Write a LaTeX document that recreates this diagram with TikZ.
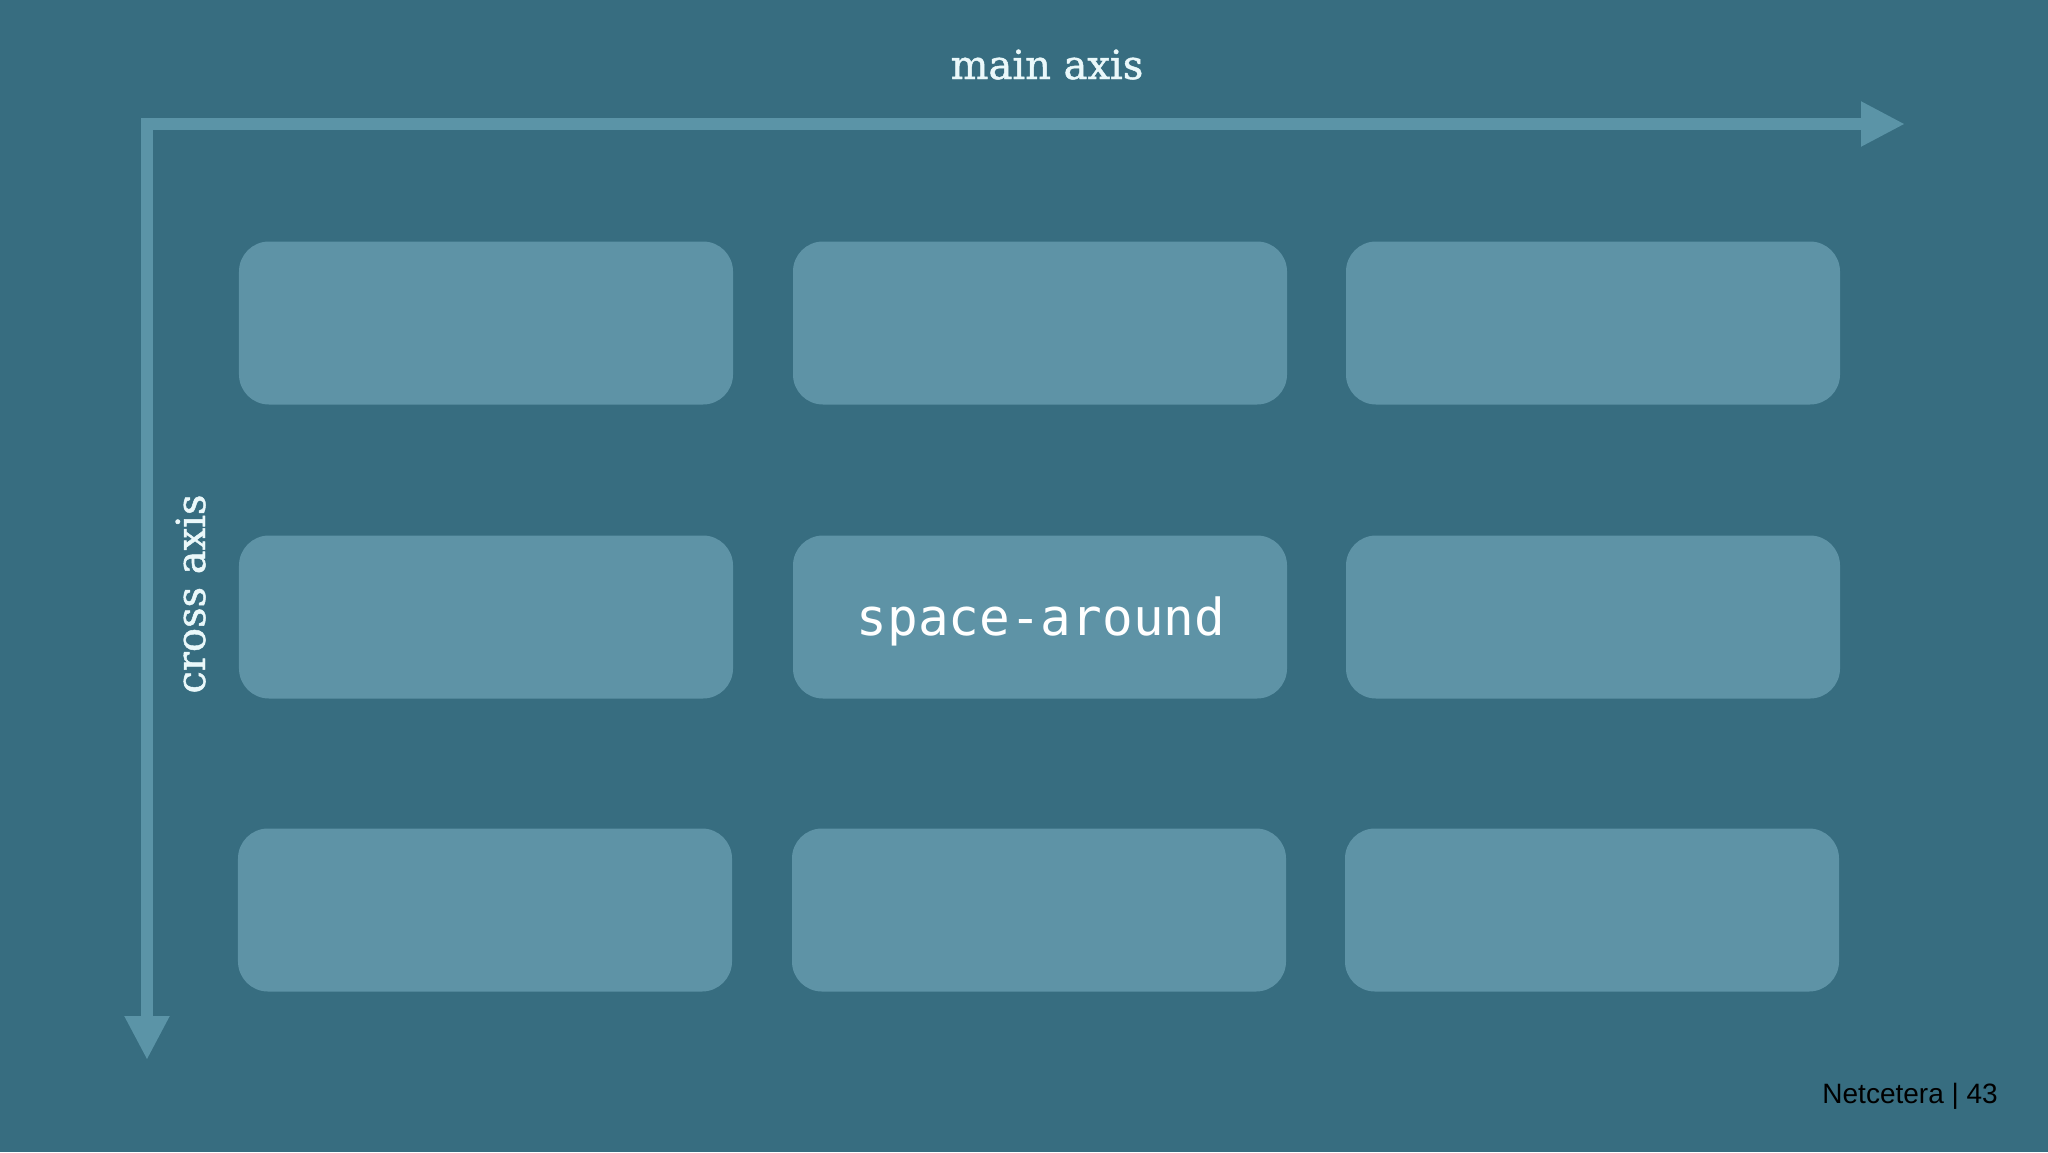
\documentclass[tikz,border=0pt]{standalone}
\usepackage{fontspec}
\setmainfont{DejaVu Serif}
\newfontfamily\axisfont{DejaVu Serif}[FakeBold=1.2]
\newfontfamily\codefont{DejaVu Sans Mono}
\newfontfamily\footfont{Liberation Sans}
\usetikzlibrary{arrows.meta}
\definecolor{slidebg}{HTML}{376D80}
\definecolor{itemfill}{HTML}{5E93A6}
\definecolor{axiscol}{HTML}{5B94A7}
\definecolor{labelcol}{HTML}{EAF8FA}
\tikzset{
	item/.style={fill=itemfill, rounded corners=30bp, minimum width=494bp, minimum height=163bp, inner sep=0pt},
	axislabel/.style={text=labelcol, inner sep=0pt, font=\axisfont\fontsize{40bp}{48bp}\selectfont},
}
\begin{document}
\begin{tikzpicture}[x=1bp, y=-1bp, >={Triangle[width=42bp,length=44bp]}]
				\def\colA{486}
				\def\colB{1040}
				\def\colC{1593}
				\def\rowA{323}
				\def\rowB{617}
				\def\rowC{910}
				
				\fill[slidebg] (0,0) rectangle (2048,1152);
				\useasboundingbox (0,0) rectangle (2048,1152);
				
				\coordinate (origin) at (147,124);
				\coordinate (mainend) at (1905,124);
				\coordinate (crossend) at (147,1060);
				\draw[axiscol, line width=12bp, line join=miter, <->] (crossend) -- (origin) -- (mainend);
				
				\node[axislabel, anchor=base] (mainlabel) at (1047,79) {main axis};
				\node[axislabel, anchor=base, rotate=90] (crosslabel) at (205,594) {cross axis};
				
				\node[item] (b11) at (\colA,\rowA) {};
				\node[item] (b12) at (\colB,\rowA) {};
				\node[item] (b13) at (\colC,\rowA) {};
				\node[item] (b21) at (\colA,\rowB) {};
				\node[item] (b22) at (\colB,\rowB) {};
				\node[text=white, anchor=base, inner sep=0pt, font=\codefont\fontsize{51bp}{60bp}\selectfont] (itemtext) at (1041,635) {space-around};
				\node[item] (b23) at (\colC,\rowB) {};
				\node[item] (b31) at (\colA-1,\rowC) {};
				\node[item] (b32) at (\colB-1,\rowC) {};
				\node[item] (b33) at (\colC-1,\rowC) {};
				
				\node[anchor=base east, inner sep=0pt, font=\footfont\fontsize{28bp}{32bp}\selectfont] (footer) at (1998,1103) {Netcetera | 43};
			\end{tikzpicture}
\end{document}
